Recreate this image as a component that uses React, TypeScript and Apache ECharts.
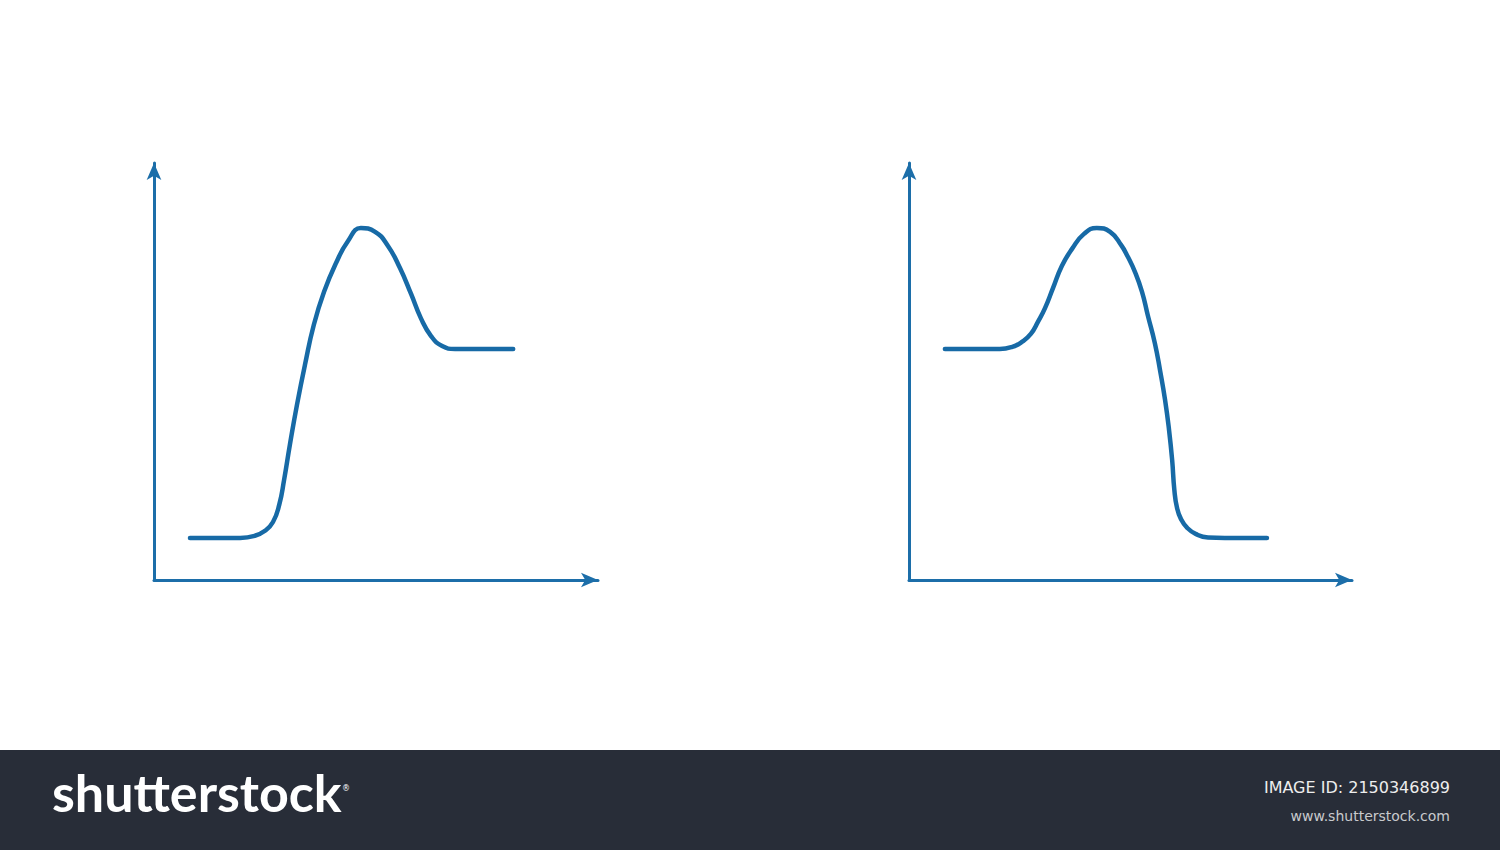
import React, { useEffect, useRef } from "react";
import * as echarts from "echarts";

// Left diagram: endothermic reaction profile (x, y in 0..100 axis units)
const leftX = [8.1, 19.4, 22.7, 25.0, 26.8, 28.2, 29.3, 30.6, 32.2, 34.0, 36.0, 38.3, 41.0, 43.7, 46.6, 49.8, 52.7, 55.4, 57.9, 60.1, 62.4, 64.9, 67.8, 80.9];
const leftY = [10.1, 10.1, 10.6, 11.8, 13.9, 18.0, 24.0, 32.4, 42.0, 51.6, 61.2, 69.1, 76.0, 81.3, 84.4, 83.5, 80.1, 74.8, 68.6, 62.8, 58.5, 56.1, 55.4, 55.4];

// Right diagram: exothermic reaction profile
const rightX = [8.1, 20.5, 23.3, 25.5, 27.5, 29.1, 30.7, 32.5, 34.5, 36.8, 39.5, 42.4, 45.4, 47.9, 49.4, 51.0, 52.6, 53.9, 55.5, 56.7, 57.8, 58.7, 59.4, 59.9, 60.5, 61.4, 62.8, 64.8, 67.5, 71.3, 80.8];
const rightY = [55.4, 55.4, 55.9, 57.1, 59.0, 61.9, 65.2, 70.0, 75.3, 79.4, 83.0, 84.4, 83.5, 80.3, 77.5, 73.9, 69.1, 63.5, 56.8, 50.1, 43.2, 36.0, 28.8, 21.6, 17.3, 14.6, 12.5, 11.0, 10.2, 10.1, 10.1];

const footerBrand = "shutterstock";
const footerId = "IMAGE ID: 2150346899";
const footerUrl = "www.shutterstock.com";

const AXIS_COLOR = "#1c6ea9";
const LINE_COLOR = "#176aa6";

function pairs(xs: number[], ys: number[]) {
  return xs.map((x, i) => [x, ys[i]]);
}

function makeAxis(gridIndex: number) {
  return {
    type: "value",
    gridIndex,
    min: 0,
    max: 100,
    axisLine: {
      show: true,
      lineStyle: { color: AXIS_COLOR, width: 3 },
      symbol: ["none", "arrow"],
      symbolSize: [11, 17],
    },
    axisTick: { show: false },
    axisLabel: { show: false },
    splitLine: { show: false },
  };
}

export default function App() {
  const ref = useRef<HTMLDivElement>(null);
  useEffect(() => {
    if (!ref.current) return;
    const chart = echarts.init(ref.current, null, { renderer: "svg" });
    chart.setOption({
      animation: false,
      backgroundColor: "#ffffff",
      grid: [
        { left: 154, top: 163, width: 444, height: 417 },
        { left: 909, top: 163, width: 443, height: 417 },
      ],
      xAxis: [makeAxis(0), makeAxis(1)],
      yAxis: [makeAxis(0), makeAxis(1)],
      series: [
        {
          type: "line",
          xAxisIndex: 0,
          yAxisIndex: 0,
          data: pairs(leftX, leftY),
          smooth: 0.5,
          showSymbol: false,
          lineStyle: { color: LINE_COLOR, width: 4.5, cap: "round", join: "round" },
        },
        {
          type: "line",
          xAxisIndex: 1,
          yAxisIndex: 1,
          data: pairs(rightX, rightY),
          smooth: 0.5,
          showSymbol: false,
          lineStyle: { color: LINE_COLOR, width: 4.5, cap: "round", join: "round" },
        },
      ],
      graphic: [
        {
          type: "rect",
          left: 0,
          top: 750,
          shape: { width: 1500, height: 100 },
          style: { fill: "#282d38" },
          silent: true,
        },
        {
          type: "text",
          left: 52,
          top: 766,
          style: {
            text: footerBrand,
            fill: "#ffffff",
            font: "bold 52px Lato, 'Open Sans', sans-serif",
          },
        },
        {
          type: "text",
          left: 342,
          top: 784,
          style: {
            text: "®",
            fill: "#ffffff",
            font: "8px 'DejaVu Sans', sans-serif",
          },
        },
        {
          type: "text",
          right: 50,
          top: 779,
          style: {
            text: footerId,
            fill: "#eeeeee",
            font: "16px 'DejaVu Sans', sans-serif",
          },
        },
        {
          type: "text",
          right: 50,
          top: 809,
          style: {
            text: footerUrl,
            fill: "#c8cacd",
            font: "14px 'DejaVu Sans', sans-serif",
          },
        },
      ],
    });
    return () => chart.dispose();
  }, []);
  return (
    <div
      ref={ref}
      style={{ position: "absolute", left: 0, top: 0, width: 1500, height: 850, background: "#fff" }}
    />
  );
}
